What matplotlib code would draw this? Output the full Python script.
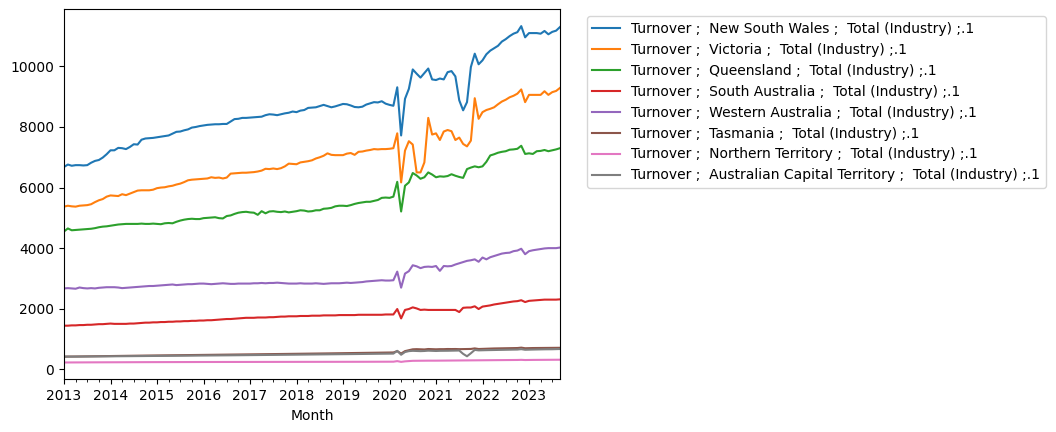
import matplotlib
matplotlib.use("Agg")
import matplotlib.pyplot as plt
import pandas as pd

# monthly turnover, Jan 2013 - Sep 2023
months = pd.date_range("2013-01-01", periods=129, freq="MS")

nsw = [6680, 6760, 6720, 6740, 6740, 6730, 6740, 6820, 6880, 6910, 6990, 7100,
       7230, 7230, 7310, 7300, 7270, 7340, 7430, 7420, 7580, 7620, 7630, 7640,
       7660, 7680, 7700, 7720, 7780, 7840, 7850, 7890, 7920, 7980, 8000, 8030,
       8050, 8070, 8080, 8090, 8090, 8100, 8100, 8180, 8260, 8270, 8300, 8300,
       8310, 8320, 8330, 8340, 8390, 8420, 8410, 8390, 8420, 8450, 8470, 8510,
       8490, 8540, 8560, 8630, 8640, 8650, 8690, 8730, 8690, 8650, 8680, 8720,
       8760, 8750, 8710, 8660, 8650, 8670, 8740, 8780, 8820, 8810, 8850, 8770,
       8730, 8700, 9310, 7720, 8930, 9260, 9900, 9760, 9630, 9780, 9930, 9570,
       9550, 9600, 9570, 9810, 9845, 9670, 8880, 8550, 8820, 9980, 10420, 10070,
       10200, 10400, 10520, 10600, 10680, 10820, 10900, 11000, 11080, 11130, 11330, 10960,
       11100, 11100, 11100, 11080, 11170, 11060, 11140, 11180, 11300]

vic = [5370, 5400, 5380, 5370, 5400, 5410, 5420, 5450, 5520, 5580, 5620, 5700,
       5740, 5730, 5720, 5780, 5750, 5800, 5850, 5900, 5910, 5910, 5910, 5930,
       5980, 6000, 6010, 6040, 6060, 6100, 6130, 6180, 6240, 6260, 6270, 6280,
       6290, 6300, 6340, 6320, 6330, 6300, 6330, 6460, 6470, 6480, 6490, 6490,
       6500, 6510, 6530, 6560, 6620, 6610, 6630, 6610, 6640, 6700, 6790, 6780,
       6770, 6830, 6850, 6870, 6900, 6960, 7000, 7050, 7130, 7080, 7070, 7070,
       7070, 7120, 7140, 7080, 7180, 7190, 7220, 7240, 7270, 7260, 7270, 7270,
       7280, 7300, 7790, 6170, 7220, 7530, 7420, 6500, 6500, 6830, 8300, 7750,
       7790, 7570, 7850, 7900, 7860, 7570, 7650, 7440, 7360, 7550, 8950, 8270,
       8490, 8560, 8600, 8650, 8750, 8840, 8900, 8980, 9030, 9100, 9240, 8820,
       9060, 9060, 9060, 9060, 9180, 9060, 9150, 9190, 9290]

qld = [4550, 4650, 4590, 4600, 4610, 4620, 4630, 4640, 4660, 4690, 4710, 4720,
       4740, 4760, 4780, 4790, 4800, 4800, 4800, 4800, 4810, 4800, 4800, 4810,
       4800, 4790, 4820, 4830, 4820, 4870, 4910, 4940, 4960, 4970, 4960, 4960,
       4990, 5000, 5010, 5020, 4990, 4980, 5060, 5080, 5130, 5170, 5190, 5200,
       5180, 5170, 5100, 5220, 5150, 5210, 5220, 5200, 5190, 5210, 5180, 5200,
       5220, 5250, 5240, 5210, 5220, 5250, 5250, 5300, 5310, 5330, 5380, 5400,
       5400, 5390, 5420, 5460, 5490, 5510, 5530, 5530, 5560, 5590, 5660, 5670,
       5660, 5700, 6190, 5210, 6060, 6170, 6480, 6400, 6290, 6340, 6500, 6430,
       6340, 6370, 6360, 6380, 6440, 6390, 6350, 6320, 6610, 6660, 6700, 6670,
       6700, 6850, 7060, 7100, 7150, 7180, 7200, 7250, 7260, 7280, 7380, 7110,
       7130, 7110, 7200, 7210, 7240, 7200, 7230, 7260, 7300]

sa = [1440, 1440, 1450, 1450, 1460, 1460, 1470, 1470, 1480, 1490, 1490, 1500,
      1510, 1500, 1500, 1500, 1500, 1510, 1510, 1520, 1530, 1540, 1540, 1550,
      1550, 1560, 1560, 1570, 1570, 1580, 1580, 1590, 1590, 1600, 1600, 1610,
      1610, 1620, 1620, 1630, 1640, 1650, 1660, 1660, 1670, 1680, 1690, 1700,
      1700, 1700, 1710, 1710, 1710, 1720, 1720, 1730, 1740, 1740, 1750, 1750,
      1750, 1760, 1760, 1760, 1770, 1770, 1770, 1780, 1780, 1780, 1780, 1790,
      1790, 1790, 1790, 1790, 1800, 1800, 1800, 1800, 1800, 1800, 1800, 1810,
      1810, 1810, 1990, 1680, 1960, 1990, 2045, 2010, 1960, 1970, 1960, 1960,
      1960, 1960, 1960, 1960, 1960, 1960, 1890, 2030, 2040, 2040, 2080, 1990,
      2070, 2090, 2110, 2140, 2160, 2180, 2200, 2220, 2240, 2250, 2280, 2220,
      2260, 2270, 2280, 2290, 2300, 2300, 2300, 2300, 2310]

wa = [2670, 2680, 2670, 2660, 2700, 2680, 2670, 2680, 2670, 2690, 2700, 2710,
      2710, 2710, 2700, 2680, 2690, 2700, 2710, 2720, 2730, 2740, 2750, 2750,
      2760, 2770, 2780, 2790, 2800, 2780, 2790, 2800, 2810, 2810, 2820, 2830,
      2830, 2820, 2810, 2820, 2830, 2840, 2830, 2820, 2820, 2830, 2830, 2830,
      2830, 2840, 2840, 2850, 2840, 2850, 2850, 2860, 2850, 2840, 2830, 2830,
      2830, 2840, 2830, 2830, 2830, 2840, 2830, 2820, 2830, 2840, 2840, 2840,
      2850, 2860, 2850, 2860, 2870, 2880, 2900, 2910, 2920, 2930, 2940, 2930,
      2930, 2940, 3225, 2695, 3160, 3240, 3435, 3400, 3340, 3380, 3390, 3380,
      3410, 3250, 3410, 3400, 3410, 3460, 3500, 3540, 3580, 3600, 3630, 3550,
      3690, 3630, 3700, 3740, 3780, 3820, 3840, 3850, 3900, 3920, 3980, 3800,
      3900, 3930, 3950, 3970, 3990, 4000, 4000, 4000, 4020]

tas = [415, 420, 420, 422, 424, 425, 427, 428, 430, 432, 434, 436,
       438, 440, 442, 443, 444, 446, 448, 450, 452, 453, 455, 456,
       458, 459, 460, 462, 463, 465, 466, 468, 470, 471, 472, 474,
       475, 477, 478, 480, 481, 483, 485, 486, 488, 489, 490, 492,
       493, 495, 496, 498, 500, 501, 503, 504, 506, 507, 509, 510,
       512, 513, 515, 517, 518, 520, 522, 524, 525, 527, 529, 530,
       532, 534, 535, 537, 539, 540, 542, 544, 546, 548, 550, 552,
       554, 556, 600, 520, 600, 630, 660, 665, 660, 655, 670, 665,
       660, 665, 665, 670, 668, 670, 665, 668, 670, 672, 690, 670,
       675, 680, 685, 688, 690, 692, 695, 698, 700, 702, 715, 695,
       700, 702, 703, 704, 705, 706, 706, 707, 710]

nt = [225, 226, 226, 227, 228, 228, 229, 229, 230, 230, 231, 231,
      232, 232, 233, 233, 234, 234, 235, 235, 235, 236, 236, 237,
      237, 237, 238, 238, 238, 239, 239, 239, 240, 240, 240, 240,
      241, 241, 241, 241, 242, 242, 242, 242, 243, 243, 243, 243,
      243, 244, 244, 244, 244, 244, 245, 245, 245, 245, 245, 245,
      246, 246, 246, 246, 246, 246, 247, 247, 247, 247, 247, 247,
      247, 248, 248, 248, 248, 248, 249, 249, 249, 249, 250, 250,
      250, 251, 270, 245, 262, 270, 280, 282, 282, 283, 285, 284,
      285, 286, 287, 288, 289, 290, 290, 291, 292, 293, 296, 293,
      295, 297, 299, 301, 303, 304, 305, 306, 307, 308, 312, 306,
      309, 310, 311, 312, 313, 313, 314, 315, 316]

act = [420, 418, 418, 420, 420, 421, 422, 423, 424, 425, 426, 427,
       428, 429, 430, 431, 432, 433, 434, 435, 436, 437, 438, 439,
       440, 441, 442, 443, 445, 446, 447, 448, 449, 450, 452, 453,
       454, 455, 456, 458, 459, 460, 461, 462, 464, 465, 466, 467,
       468, 470, 471, 472, 473, 475, 476, 477, 478, 480, 481, 482,
       483, 485, 486, 487, 489, 490, 491, 493, 494, 495, 497, 498,
       499, 501, 502, 504, 505, 506, 508, 509, 511, 512, 514, 515,
       517, 518, 610, 480, 570, 600, 610, 605, 600, 605, 615, 610,
       605, 610, 610, 612, 615, 618, 620, 510, 430, 530, 640, 625,
       630, 632, 635, 638, 640, 642, 645, 648, 650, 652, 665, 645,
       650, 652, 655, 657, 660, 660, 662, 665, 670]

states = ["New South Wales", "Victoria", "Queensland", "South Australia",
          "Western Australia", "Tasmania", "Northern Territory",
          "Australian Capital Territory"]
series = [nsw, vic, qld, sa, wa, tas, nt, act]

cols = {}
for name, vals in zip(states, series):
    cols["Turnover ;  " + name + " ;  Total (Industry) ;.1"] = vals

df = pd.DataFrame(cols, index=months)
df.index.name = "Month"

fig = plt.figure(figsize=(10.56, 4.32), dpi=100)
ax = fig.add_axes([64 / 1056, 52.7 / 432, 496 / 1056, 370 / 432])
df.plot(ax=ax)
ax.legend(bbox_to_anchor=(1.04, 1), loc="upper left")

fig.savefig("out.png", dpi=100)
